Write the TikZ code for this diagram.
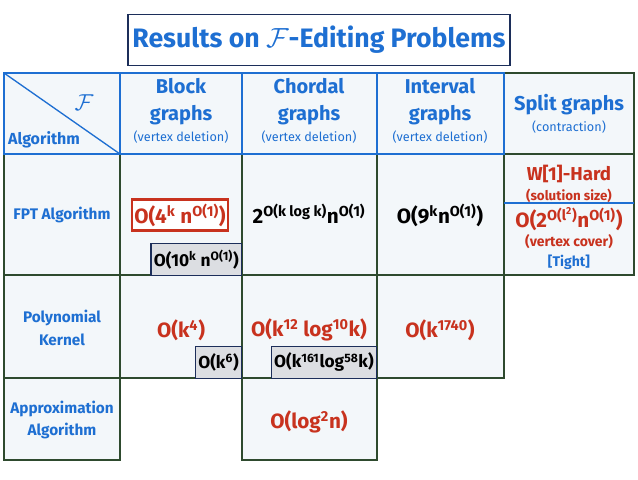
\documentclass[tikz,border=0pt]{standalone}
\usepackage{fontspec}
\setmainfont{Fira Sans}
\newcommand\subf{\fontsize{9.5}{11}\selectfont\mdseries}
\newcommand\su[1]{\textsuperscript{#1}}
\definecolor{bl}{HTML}{1E6FD2}
\definecolor{rd}{HTML}{C8321E}
\definecolor{gr}{HTML}{2E4A2E}
\definecolor{cf}{HTML}{F3F7FA}
\definecolor{bx}{HTML}{DCDEE2}
\definecolor{nv}{HTML}{1C2E5A}
\begin{document}
\begin{tikzpicture}[x=0.75pt,y=-0.75pt,
 cell/.style={fill=cf,draw=gr,line width=1pt},
 hcell/.style={fill=cf,draw=bl,line width=1pt},
 hd/.style={text=bl,font=\fontsize{15}{20}\selectfont\bfseries,align=center},
 rowl/.style={text=bl,font=\fontsize{11.5}{17}\selectfont\bfseries,align=center},
 rtxt/.style={text=rd,font=\fontsize{15.5}{18}\selectfont\bfseries,align=center},
 ktxt/.style={text=black,font=\fontsize{15.5}{18}\selectfont\bfseries,align=center},
 gbox/.style={fill=bx,draw=nv,line width=1pt,inner sep=2pt,minimum height=24pt,font=\fontsize{13}{15}\selectfont\bfseries}]
\useasboundingbox (0,0) rectangle (638,479);
% title
\node[draw=nv,line width=1.2pt,minimum width=382*0.75pt,minimum height=51*0.75pt,text=bl,font=\fontsize{20}{24}\selectfont\bfseries] (title) at (319,40) {Results on $\mathcal{F}$-Editing Problems};
% body cells
\foreach \x/\y/\w/\h in {4/154/116/121,120/154/122/121,242/154/135/121,377/154/127/121,504/154/130/121,
 4/275/116/103,120/275/122/103,242/275/135/103,377/275/127/103,
 4/378/116/82,242/378/135/82}
 {\path[cell] (\x,\y) rectangle ++(\w,\h);}
\path[cell] (504,73) rectangle ++(130,81);
\foreach \x/\w in {4/116,120/122,242/135,377/127}
 {\path[hcell] (\x,73) rectangle ++(\w,81);}
\coordinate (dA) at (4,73); \coordinate (dB) at (120,154);
\draw[bl,line width=1pt] (dA) -- (dB);
\node[text=bl,font=\fontsize{19}{20}\selectfont] (fF) at (84,103) {$\mathcal{F}$};
\node[text=bl,font=\fontsize{12}{14}\selectfont\bfseries] (alg) at (44,140) {Algorithm};
% headers
\node[hd] (h1) at (181,111) {Block\\graphs\\[-4pt]{\subf(vertex deletion)}};
\node[hd] (h2) at (309,111) {Chordal\\graphs\\[-4pt]{\subf(vertex deletion)}};
\node[hd] (h3) at (440,111) {Interval\\graphs\\[-4pt]{\subf(vertex deletion)}};
\node[hd] (h4) at (569,114) {Split graphs\\[-4pt]{\subf(contraction)}};
% row labels
\node[rowl] (r1) at (62,215) {FPT Algorithm};
\node[rowl] (r2) at (62,328) {Polynomial\\Kernel};
\node[rowl] (r3) at (62,420) {Approximation\\Algorithm};
% FPT row
\node[rtxt,draw=rd,line width=1.8pt,fill=white,inner sep=2pt,minimum height=23pt] (b1) at (180,215) {O(4\su{k} n\su{O(1)})};
\node[gbox,anchor=south east] (b2) at (242,276) {O(10\su{k} n\su{O(1)})};
\node[ktxt] (c1) at (309,214) {2\su{O(k log k)}n\su{O(1)}};
\node[ktxt] (i1) at (440,215) {O(9\su{k}n\su{O(1)})};
\node[text=rd,font=\fontsize{14}{16}\selectfont\bfseries] (s1) at (569,174) {W[1]-Hard};
\node[text=rd,font=\fontsize{10}{11}\selectfont\bfseries] (s2) at (569,196) {(solution size)};
\coordinate (sl1) at (504,203); \coordinate (sl2) at (634,203);
\draw[bl,line width=1pt] (sl1) -- (sl2);
\node[rtxt] (s3) at (569,219) {O(2\su{O(l\su{2})}n\su{O(1)})};
\node[text=rd,font=\fontsize{10.5}{12}\selectfont\bfseries] (s4) at (569,242) {(vertex cover)};
\node[text=bl,font=\fontsize{10.5}{12}\selectfont\bfseries] (s5) at (569,262) {[Tight]};
% kernel row
\node[rtxt] (k1) at (181,330) {O(k\su{4})};
\node[gbox,anchor=south east] (k2) at (242,379) {O(k\su{6})};
\node[rtxt] (k3) at (309,330) {O(k\su{12} log\su{10}k)};
\node[gbox,anchor=south east] (k4) at (377,379) {O(k\su{161}log\su{58}k)};
\node[rtxt] (k5) at (440,330) {O(k\su{1740})};
% approx row
\node[rtxt] (a1) at (309,422) {O(log\su{2}n)};
\end{tikzpicture}
\end{document}
